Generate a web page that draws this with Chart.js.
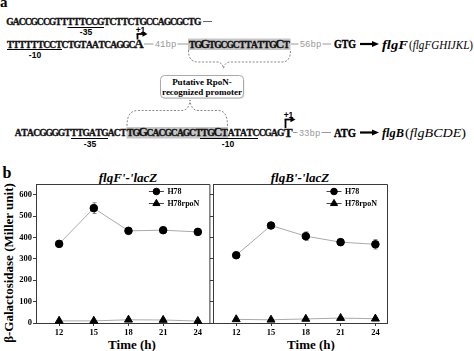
<!DOCTYPE html>
<html lang="en">
<head>
<meta charset="UTF-8">
<title>flgF / flgB promoters and lacZ activity</title>
<script src="https://cdn.jsdelivr.net/npm/chart.js"></script>
<style>
  html, body { margin: 0; padding: 0; background: #fff; }
  body { width: 474px; height: 351px; position: relative; overflow: hidden; font-family: 'Liberation Serif', serif; }
  #seq { position: absolute; left: 0; top: 0; }
  canvas { position: absolute; }
  .lbl { position: absolute; white-space: nowrap; font-weight: bold; transform: translate(-50%, -50%); line-height: 1; }
  .rot { transform: translate(-50%, -50%) rotate(-90deg); }
  .it { font-style: italic; }
  .nt { font-family: 'Liberation Serif', serif; font-weight: bold; font-size: 9.5px; text-anchor: middle; fill: #111; stroke: #111; stroke-width: 0.35px; }
  .start { font-family: 'Liberation Serif', serif; font-weight: bold; font-size: 12px; fill: #000; stroke: #000; stroke-width: 0.4px; }
  .gray { font-family: 'Liberation Mono', monospace; font-size: 9px; fill: #999; text-anchor: middle; }
  .mark { font-family: 'Liberation Sans', sans-serif; font-weight: bold; font-size: 8.5px; text-anchor: middle; }
</style>
</head>
<body>

<svg id="seq" width="474" height="160" xmlns="http://www.w3.org/2000/svg"></svg>

<div class="lbl" style="left:7px;top:173px;font-size:16px;">b</div>
<div class="lbl rot" style="left:8px;top:263px;font-size:13px;">β-Galactosidase (Miller unit)</div>
<div class="lbl it" style="left:128px;top:177px;font-size:13px;">flgF'-'lacZ</div>
<div class="lbl it" style="left:300px;top:177px;font-size:13px;">flgB'-'lacZ</div>
<div class="lbl" style="left:132px;top:344px;font-size:13px;">Time (h)</div>
<div class="lbl" style="left:311px;top:344px;font-size:13px;">Time (h)</div>

<canvas id="chartF" width="215" height="191" style="left:0;top:160px;"></canvas>
<canvas id="chartB" width="200" height="191" style="left:200px;top:160px;"></canvas>

<script>
// ---- data ----
const hours = [12, 15, 18, 21, 24];
const yTicks = [0, 100, 200, 300, 400, 500, 600];
const seriesNames = ['H78', 'H78rpoN'];

const flgF_H78 = [370, 537, 431, 434, 426];
const flgF_H78_err = [6, 25, 8, 6, 10];
const flgF_rpoN = [10, 10, 15, 14, 9];
const flgF_rpoN_err = [3, 3, 3, 3, 3];

const flgB_H78 = [317, 456, 406, 378, 368];
const flgB_H78_err = [6, 8, 20, 8, 22];
const flgB_rpoN = [17, 15, 19, 23, 20];
const flgB_rpoN_err = [3, 3, 3, 3, 3];

// ---- panel a: promoter sequences ----
const NS = 'http://www.w3.org/2000/svg';
const svg = document.getElementById('seq');

function add(tag, attrs, text) {
    const e = document.createElementNS(NS, tag);
    for (const k in attrs) e.setAttribute(k, attrs[k]);
    if (text != null) e.textContent = text;
    svg.appendChild(e);
    return e;
}

// one <text> per sequence, every base placed on its own x; big bases get a tspan
function seq(str, x0, y, cw, big = [], bigW = 7.6, bigSize = 12.5) {
    const t = add('text', { y: y, class: 'nt' });
    const xs = [];
    let x = x0;
    for (let i = 0; i < str.length; i++) {
        const w = big.includes(i) ? bigW : cw;
        xs.push((x + w / 2).toFixed(2));
        x += w;
    }
    t.setAttribute('x', xs.join(' '));
    let buf = '';
    for (let i = 0; i < str.length; i++) {
        if (big.includes(i)) {
            if (buf) { t.appendChild(document.createTextNode(buf)); buf = ''; }
            const ts = document.createElementNS(NS, 'tspan');
            ts.setAttribute('font-size', bigSize);
            ts.textContent = str[i];
            t.appendChild(ts);
        } else buf += str[i];
    }
    if (buf) t.appendChild(document.createTextNode(buf));
    return x;
}

function line(x1, y1, x2, y2, color = '#000', w = 1) {
    add('line', { x1, y1, x2, y2, stroke: color, 'stroke-width': w });
}

function arrowRight(x1, x2, y, w = 2.2) {
    line(x1, y, x2 - 5, y, '#000', w);
    add('polygon', { points: `${x2 - 7},${y - 3} ${x2},${y} ${x2 - 7},${y + 3}`, fill: '#000' });
}

function tss(x, yBase, yTop, label) {
    line(x, yBase, x, yTop, '#000', 1.8);
    line(x - 0.9, yTop, x + 6, yTop, '#000', 1.8);
    add('polygon', { points: `${x + 5},${yTop - 2.8} ${x + 10},${yTop} ${x + 5},${yTop + 2.8}`, fill: '#000' });
    add('text', { x: x + 3, y: yTop - 1.5, class: 'mark' }, label);
}

function spacer(x1, x2, y, txt, tx) {
    line(x1, y, tx - 12, y, '#999', 1);
    add('text', { x: tx, y: y + 3, class: 'gray' }, txt);
    line(tx + 12, y, x2, y, '#999', 1);
}

function gene(x, y, start, name, operon, nameLen, opLen) {
    add('text', { x: x, y: y + 4, class: 'start', textLength: 22, lengthAdjust: 'spacingAndGlyphs' }, start);
    arrowRight(x + 26, x + 45, y);
    add('text', { x: x + 48, y: y + 4.5, 'font-family': 'Liberation Serif', 'font-size': 13, 'font-weight': 'bold', 'font-style': 'italic', textLength: nameLen, lengthAdjust: 'spacingAndGlyphs' }, name);
    const o = add('text', { x: x + 49 + nameLen, y: y + 4.5, 'font-family': 'Liberation Serif', 'font-size': 12, textLength: opLen, lengthAdjust: 'spacingAndGlyphs' });
    const a = document.createElementNS(NS, 'tspan'); a.textContent = '('; o.appendChild(a);
    const b = document.createElementNS(NS, 'tspan'); b.setAttribute('font-style', 'italic'); b.textContent = operon; o.appendChild(b);
    const c = document.createElementNS(NS, 'tspan'); c.textContent = ')'; o.appendChild(c);
}

add('text', { x: 0, y: 7, 'font-family': 'Liberation Serif', 'font-weight': 'bold', 'font-size': 15 }, 'a');

// line 1
seq('GACCGCCGTTTTTCCGTCTTCTGCCAGCGCTG', 7, 25, 6.05);
line(203, 21.5, 212, 21.5, '#666', 1);
line(67.5, 27.5, 104, 27.5);
add('text', { x: 86, y: 35, class: 'mark' }, '-35');

// line 2
const y2 = 47.5;
let xe = seq('TTTTTTCCTCTGTAATCAGGC', 7, y2, 6.1);
seq('A', xe, y2 + 0.5, 7.6, [0], 7.6, 13);
line(7, 49.5, 62, 49.5);
add('text', { x: 35, y: 57.5, class: 'mark' }, '-10');
tss(137.5, 39.5, 34, '+1');
spacer(144, 188, 44, '41bp', 165.5);
add('rect', { x: 188, y: 38.5, width: 102.5, height: 11.5, fill: '#c6c6c6' });
seq('TGGTGCGCTTATTGCT', 189, y2, 6.1, [2, 14]);
spacer(291, 331, 44, '56bp', 310.5);
gene(334, 44, 'GTG', 'flgF', 'flgFGHIJKL', 26, 64);

// promoter callout
add('path', { d: 'M188.5,50 C188.5,58 191,62 198,62 L217,62 C220.5,62 223,64.5 223.5,68.5 C224,64.5 226.5,62 230,62 L282,62 C288,62 290.5,58 290.5,50', fill: 'none', stroke: '#888', 'stroke-width': 1, 'stroke-dasharray': '2,1.6' });
add('rect', { x: 161.5, y: 76.5, width: 83, height: 22.5, rx: 4, fill: '#e6e6e6' });
add('rect', { x: 160.5, y: 75.5, width: 83, height: 22.5, rx: 4, fill: '#fff', stroke: '#aaa', 'stroke-width': 1 });
add('text', { x: 202, y: 84.8, 'font-family': 'Liberation Serif', 'font-weight': 'bold', 'font-size': 9, 'text-anchor': 'middle' }, 'Putative RpoN-');
add('text', { x: 202, y: 94.6, 'font-family': 'Liberation Serif', 'font-weight': 'bold', 'font-size': 9, 'text-anchor': 'middle' }, 'recognized promoter');
add('path', { d: 'M127,126 C127,116 130,110.5 138,110.5 L182,110.5 C187,110.5 189.5,106 190,100 C190.5,106 193,110.5 198,110.5 L218,110.5 C225,110.5 227.5,116 227.5,126', fill: 'none', stroke: '#888', 'stroke-width': 1, 'stroke-dasharray': '2,1.6' });

// line 3
const y3 = 136;
xe = seq('ATACGGGGTTTGATGACT', 15, y3, 6.2);
add('rect', { x: 126.5, y: 127, width: 101.5, height: 11.5, fill: '#c6c6c6' });
xe = seq('TGGCACGCAGCTTGCT', 127, y3, 6.1, [2, 14]);
xe = seq('ATATCCGAG', 228, y3, 6.2);
seq('T', xe + 0.5, y3 + 0.5, 8, [0], 8, 13);
line(71, 138.5, 108, 138.5);
add('text', { x: 90, y: 146.5, class: 'mark' }, '-35');
line(200, 138.5, 258, 138.5);
add('text', { x: 228, y: 146.5, class: 'mark' }, '-10');
tss(285.5, 128, 119.5, '+1');
spacer(293, 331, 132.5, '33bp', 309.5);
gene(334, 132.5, 'ATG', 'flgB', 'flgBCDE', 22, 61);

// ---- panel b: Chart.js line charts ----
const tickFont = { family: "'Liberation Serif', serif", size: 8.5, weight: 'bold' };
const axisColor = '#3a3a3a';

function dataset(label, vals, errs, style, radius) {
    return {
        label: label,
        data: hours.map((h, i) => ({ x: h, y: vals[i] })),
        errors: errs,
        borderColor: '#aaaaaa',
        borderWidth: 1,
        pointStyle: style,
        pointRadius: radius,
        pointBackgroundColor: '#000',
        pointBorderColor: '#000',
        pointBorderWidth: 1,
        tension: 0,
        clip: false
    };
}

const errorBars = {
    id: 'errorBars',
    beforeDatasetsDraw(chart) {
        const { ctx, scales: { x, y } } = chart;
        ctx.save();
        ctx.strokeStyle = '#888';
        ctx.lineWidth = 1;
        chart.data.datasets.forEach(ds => {
            ds.data.forEach((p, i) => {
                const e = ds.errors[i];
                const px = Math.round(x.getPixelForValue(p.x)) + 0.5;
                const t = y.getPixelForValue(p.y + e), b = y.getPixelForValue(p.y - e);
                ctx.beginPath();
                ctx.moveTo(px, t); ctx.lineTo(px, b);
                ctx.moveTo(px - 2, t); ctx.lineTo(px + 2, t);
                ctx.moveTo(px - 2, b); ctx.lineTo(px + 2, b);
                ctx.stroke();
            });
        });
        ctx.restore();
    }
};

const frame = {
    id: 'frame',
    afterDraw(chart) {
        const { ctx, chartArea: a } = chart;
        ctx.save();
        ctx.strokeStyle = axisColor;
        ctx.lineWidth = 1;
        ctx.beginPath();
        ctx.moveTo(a.left, a.top + 0.5); ctx.lineTo(a.right + 0.5, a.top + 0.5); ctx.lineTo(a.right + 0.5, a.bottom);
        ctx.stroke();
        ctx.restore();
    }
};

const insideLegend = {
    id: 'insideLegend',
    afterDraw(chart) {
        const { ctx, chartArea: a } = chart;
        ctx.save();
        chart.data.datasets.forEach((d, i) => {
            const y = a.top + 7.5 + i * 12;
            const x0 = a.right - 60.5;
            ctx.strokeStyle = '#444';
            ctx.lineWidth = 1;
            ctx.beginPath(); ctx.moveTo(x0, y); ctx.lineTo(x0 + 15, y); ctx.stroke();
            ctx.fillStyle = '#000';
            ctx.strokeStyle = '#000';
            Chart.helpers.drawPoint(ctx, { pointStyle: d.pointStyle, radius: d.pointRadius - 0.5, borderWidth: 1, rotation: 0 }, x0 + 7.5, y);
            ctx.fillStyle = '#000';
            ctx.font = "bold 8px 'Liberation Serif', serif";
            ctx.textBaseline = 'middle';
            ctx.fillText(d.label, x0 + 18.5, y + 0.5);
        });
        ctx.restore();
    }
};

function options(yWidth, showYLabels, padRight) {
    return {
        responsive: false,
        animation: false,
        devicePixelRatio: 1,
        layout: { padding: { top: 24, right: padRight, left: 0, bottom: 0 } },
        plugins: { legend: { display: false }, tooltip: { enabled: false }, title: { display: false } },
        scales: {
            x: {
                type: 'linear', min: 10, max: 25,
                afterBuildTicks: s => { s.ticks = hours.map(v => ({ value: v })); },
                afterFit: s => { s.height = 28; },
                grid: { drawOnChartArea: false, tickLength: 3, color: axisColor },
                border: { color: axisColor, width: 1 },
                ticks: { font: tickFont, color: '#000', padding: 2, maxRotation: 0 }
            },
            y: {
                type: 'linear', min: 0, max: 650,
                afterBuildTicks: s => { s.ticks = yTicks.map(v => ({ value: v })); },
                afterFit: s => { s.width = yWidth; },
                grid: { drawOnChartArea: false, tickLength: 3, color: axisColor },
                border: { color: axisColor, width: 1 },
                ticks: { display: showYLabels, font: tickFont, color: '#000', padding: 1 }
            }
        }
    };
}

new Chart(document.getElementById('chartF'), {
    type: 'line',
    data: { datasets: [
        dataset(seriesNames[0], flgF_H78, flgF_H78_err, 'circle', 3.8),
        dataset(seriesNames[1], flgF_rpoN, flgF_rpoN_err, 'triangle', 4.6)
    ] },
    options: options(36, true, 2),
    plugins: [errorBars, frame, insideLegend]
});

new Chart(document.getElementById('chartB'), {
    type: 'line',
    data: { datasets: [
        dataset(seriesNames[0], flgB_H78, flgB_H78_err, 'circle', 3.8),
        dataset(seriesNames[1], flgB_rpoN, flgB_rpoN_err, 'triangle', 4.6)
    ] },
    options: options(13, false, 13),
    plugins: [errorBars, frame, insideLegend]
});
</script>
</body>
</html>
